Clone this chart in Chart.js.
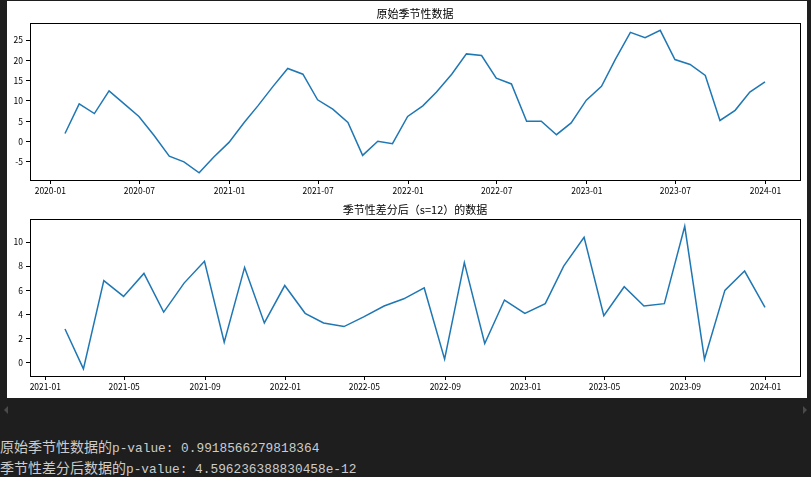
<!DOCTYPE html>
<html>
<head>
<meta charset="utf-8">
<script src="https://cdn.jsdelivr.net/npm/chart.js@4.4.1/dist/chart.umd.min.js"></script>
<style>
  body { margin: 0; width: 811px; height: 477px; background: #1e1e1e; overflow: hidden; position: relative; }
  #fig { position: absolute; left: 7px; top: 1px; width: 800px; height: 397px; background: #fff; }
  .box { position: absolute; left: 0; width: 800px; height: 196px; }
  #box1 { top: 0; }
  #box2 { top: 196px; }
  .arrowL, .arrowR { position: absolute; top: 406px; width: 0; height: 0; border-top: 4px solid transparent; border-bottom: 4px solid transparent; }
  .arrowL { left: 4px; border-right: 4px solid #4a4a4a; }
  .arrowR { left: 803px; border-left: 4px solid #4a4a4a; }
  .out { position: absolute; left: 0; top: 437px; color: #cccccc; line-height: 19px; white-space: pre; }
  .cjk { font-family: "Noto Sans CJK SC", sans-serif; font-size: 14px; }
  .mono { font-family: "Liberation Mono", "DejaVu Sans Mono", monospace; font-size: 12.8px; }
</style>
</head>
<body>
<div id="fig">
  <div class="box" id="box1"><canvas id="chart1" width="800" height="196"></canvas></div>
  <div class="box" id="box2"><canvas id="chart2" width="800" height="196"></canvas></div>
</div>
<div class="arrowL"></div>
<div class="arrowR"></div>
<div class="out"><span class="cjk">原始季节性数据的</span><span class="mono">p-value: 0.9918566279818364</span>
<span class="cjk">季节性差分后数据的</span><span class="mono">p-value: 4.596236388830458e-12</span></div>

<script>
// Monthly points (month-end dates)
const months = [
    '2020-01', '2020-02', '2020-03', '2020-04', '2020-05', '2020-06', '2020-07', '2020-08', '2020-09', '2020-10', '2020-11', '2020-12',
    '2021-01', '2021-02', '2021-03', '2021-04', '2021-05', '2021-06', '2021-07', '2021-08', '2021-09', '2021-10', '2021-11', '2021-12',
    '2022-01', '2022-02', '2022-03', '2022-04', '2022-05', '2022-06', '2022-07', '2022-08', '2022-09', '2022-10', '2022-11', '2022-12',
    '2023-01', '2023-02', '2023-03', '2023-04', '2023-05', '2023-06', '2023-07', '2023-08', '2023-09', '2023-10', '2023-11', '2023-12'
];
const diffMonths = months.slice(12);

// Original seasonal data
const rawValues = [
    2.0, 9.3, 6.9, 12.5, 9.3, 6.2, 1.5, -3.6, -5.0, -7.7, -3.8, -0.2,
    4.7, 8.8, 13.6, 18.0, 16.6, 10.3, 8.0, 4.7, -3.4, 0.1, -0.5, 6.2,
    8.8, 12.2, 16.6, 21.6, 21.2, 15.6, 14.2, 5.0, 5.0, 1.7, 4.6, 10.2,
    13.6, 20.2, 26.9, 25.6, 27.4, 20.2, 19.0, 16.3, 5.2, 7.7, 12.2, 14.7
];

// After seasonal differencing (s=12)
const diffValues = [
    2.8, -0.5, 6.8, 5.5, 7.4, 4.2, 6.6, 8.4, 1.7, 7.9, 3.3, 6.4,
    4.1, 3.3, 3.0, 3.8, 4.7, 5.3, 6.2, 0.3, 8.3, 1.6, 5.2, 4.1,
    4.9, 8.0, 10.4, 3.9, 6.3, 4.7, 4.9, 11.3, 0.3, 6.0, 7.6, 4.6
];

// Tick labels
const rawXTicks = ['2020-01', '2020-07', '2021-01', '2021-07', '2022-01', '2022-07', '2023-01', '2023-07', '2024-01'];
const diffXTicks = ['2021-01', '2021-05', '2021-09', '2022-01', '2022-05', '2022-09', '2023-01', '2023-05', '2023-09', '2024-01'];
const rawYTicks = [-5, 0, 5, 10, 15, 20, 25];
const diffYTicks = [0, 2, 4, 6, 8, 10];

const FONT = '"Noto Sans CJK SC", sans-serif';

// day number of the last day of a month ('YYYY-MM')
function monthEnd(ym) {
    const p = ym.split('-');
    return Date.UTC(+p[0], +p[1], 0) / 864e5;
}
// day number of the first day of a month
function monthStart(ym) {
    const p = ym.split('-');
    return Date.UTC(+p[0], +p[1] - 1, 1) / 864e5;
}

// draw the top and right spines
const frame = {
    id: 'frame',
    afterDraw(chart) {
        const a = chart.chartArea, c = chart.ctx;
        c.save();
        c.strokeStyle = '#000';
        c.lineWidth = 1;
        c.strokeRect(Math.round(a.left) + 0.5, Math.round(a.top) + 0.5, Math.round(a.right - a.left), Math.round(a.bottom - a.top));
        c.restore();
    }
};

function makeChart(id, titleText, labels, values, xTicks, yTicks) {
    const xs = labels.map(monthEnd);
    const xMin = Math.min(...xs), xMax = Math.max(...xs), xr = xMax - xMin;
    const yMin = Math.min(...values), yMax = Math.max(...values), yr = yMax - yMin;

    new Chart(document.getElementById(id).getContext('2d'), {
        type: 'line',
        data: {
            datasets: [{
                data: xs.map((x, i) => ({ x: x, y: values[i] })),
                borderColor: '#1f77b4',
                borderWidth: 1.5,
                pointRadius: 0,
                tension: 0,
                fill: false,
            }]
        },
        options: {
            responsive: false,
            animation: false,
            layout: { padding: { left: 0, right: 7, top: 0, bottom: 0 } },
            plugins: {
                legend: { display: false },
                tooltip: { enabled: false },
                title: {
                    display: true,
                    fullSize: false,
                    text: titleText,
                    color: '#000',
                    font: { family: FONT, size: 11, weight: 'normal' },
                    padding: { top: 6, bottom: 3 },
                },
            },
            scales: {
                x: {
                    type: 'linear',
                    min: xMin - 0.05 * xr,
                    max: xMax + 0.05 * xr,
                    afterBuildTicks: s => { s.ticks = xTicks.map(t => ({ value: monthStart(t) })); },
                    afterFit: s => { s.height = 17; },
                    grid: { display: true, drawOnChartArea: false, drawTicks: true, tickLength: 4, color: '#000' },
                    border: { display: true, color: '#000', width: 1 },
                    ticks: {
                        autoSkip: false, maxRotation: 0, color: '#000', padding: 2,
                        font: { family: FONT, size: 8.5 },
                        callback: (v, i) => xTicks[i],
                    },
                },
                y: {
                    min: yMin - 0.05 * yr,
                    max: yMax + 0.05 * yr,
                    afterBuildTicks: s => { s.ticks = yTicks.map(t => ({ value: t })); },
                    afterFit: s => { s.width = 23; },
                    grid: { display: true, drawOnChartArea: false, drawTicks: true, tickLength: 4, color: '#000' },
                    border: { display: true, color: '#000', width: 1 },
                    ticks: {
                        color: '#000', padding: 3,
                        font: { family: FONT, size: 8.5 },
                        callback: (v, i) => String(yTicks[i]),
                    },
                },
            },
        },
        plugins: [frame],
    });
}

makeChart('chart1', '原始季节性数据', months, rawValues, rawXTicks, rawYTicks);
makeChart('chart2', '季节性差分后（s=12）的数据', diffMonths, diffValues, diffXTicks, diffYTicks);
</script>
</body>
</html>
